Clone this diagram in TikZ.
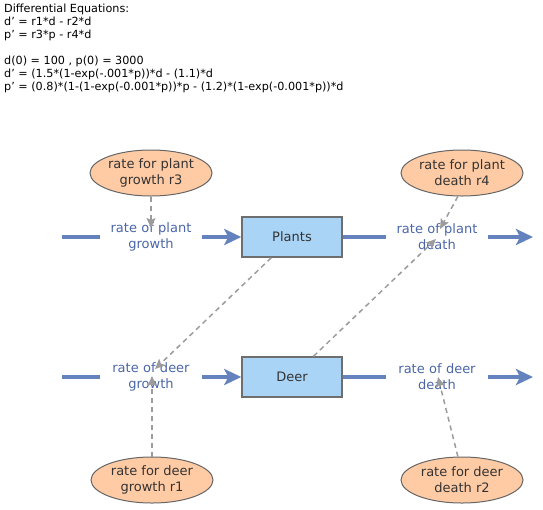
\documentclass[tikz,border=0pt]{standalone}
\usepackage{fontspec}
\setmainfont{DejaVu Sans}
\usetikzlibrary{arrows.meta,shapes.geometric}

\definecolor{flowblue}{HTML}{6382BE}
\definecolor{rateblue}{HTML}{4A66A8}
\definecolor{stockfill}{HTML}{A9D4F6}
\definecolor{stockline}{HTML}{6E6E6E}
\definecolor{paramfill}{HTML}{FFCBA4}
\definecolor{linkgray}{HTML}{9C9C9C}

\begin{document}
\begin{tikzpicture}[x=1pt,y=-1pt,
  stock/.style={draw=stockline, line width=1.5pt, fill=stockfill, minimum width=100pt, minimum height=40pt, text=black!80, font=\fontsize{13}{15}\selectfont},
  param/.style={ellipse, draw=black!60, line width=1pt, fill=paramfill, minimum width=122pt, minimum height=46pt, inner sep=0pt, align=center, text=black!80, font=\fontsize{13}{16}\selectfont},
  rate/.style={text width=96pt, inner sep=3pt, align=center, text=rateblue, font=\fontsize{13}{16}\selectfont},
  flow/.style={draw=flowblue, line width=3.5pt},
  inflow/.style={flow, -{Stealth[length=17pt,width=16pt,inset=4pt]}},
  link/.style={draw=linkgray, dashed, dash pattern=on 5pt off 4pt, line width=1.5pt, -{Stealth[length=10pt,width=9pt,inset=2pt]}}
]
  \useasboundingbox (0,0) rectangle (543,509);

  % equations
  \node [anchor=north west, align=left, inner sep=0pt, font=\fontsize{11.2}{13}\selectfont] (eqs) at (4,4) {Differential Equations:\\
    d' = r1*d - r2*d\\
    p' = r3*p - r4*d\\[13pt]
    d(0) = 100 , p(0) = 3000\\
    d' = (1.5*(1-exp(-.001*p))*d - (1.1)*d\\
    p' = (0.8)*(1-(1-exp(-0.001*p))*p - (1.2)*(1-exp(-0.001*p))*d};

  % stocks
  \node [stock] (plants) at (292,237) {Plants};
  \node [stock] (deer) at (292,377) {Deer};

  % rates
  \node [rate] (pgrowth) at (151,237) {rate of plant\\growth};
  \node [rate] (pdeath) at (437,237) {rate of plant\\death};
  \node [rate] (dgrowth) at (151,377) {rate of deer\\growth};
  \node [rate] (ddeath) at (437,377) {rate of deer\\death};

  % parameters
  \node [param] (r3) at (151,173) {rate for plant\\growth r3};
  \node [param] (r4) at (462,173) {rate for plant\\death r4};
  \node [param] (r1) at (152,480) {rate for deer\\growth r1};
  \node [param] (r2) at (462,480) {rate for deer\\death r2};

  % flow ends
  \coordinate (psrc) at (62,237);
  \coordinate (psink) at (533,237);
  \coordinate (dsrc) at (62,377);
  \coordinate (dsink) at (533,377);

  \draw [flow] (psrc) -- (pgrowth.west);
  \draw [inflow] (pgrowth.east) -- (plants.west);
  \draw [flow] (plants.east) -- (pdeath.west);
  \draw [inflow] (pdeath.east) -- (psink);

  \draw [flow] (dsrc) -- (dgrowth.west);
  \draw [inflow] (dgrowth.east) -- (deer.west);
  \draw [flow] (deer.east) -- (ddeath.west);
  \draw [inflow] (ddeath.east) -- (dsink);

  % links into the rates
  \coordinate (pgtip) at (151,228);
  \coordinate (pdtip1) at (440,229);
  \coordinate (pdtip2) at (436,239);
  \coordinate (dgtip1) at (155,369);
  \coordinate (dgtip2) at (152,376);
  \coordinate (ddtip) at (438,377);

  \draw [link] (r3.south) -- (pgtip);
  \draw [link] (r4.260) -- (pdtip1);
  \draw [link] (deer.44) -- (pdtip2);
  \draw [link] (plants.225) -- (dgtip1);
  \draw [link] (r1.north) -- (dgtip2);
  \draw [link] (r2.100) -- (ddtip);
\end{tikzpicture}
\end{document}
